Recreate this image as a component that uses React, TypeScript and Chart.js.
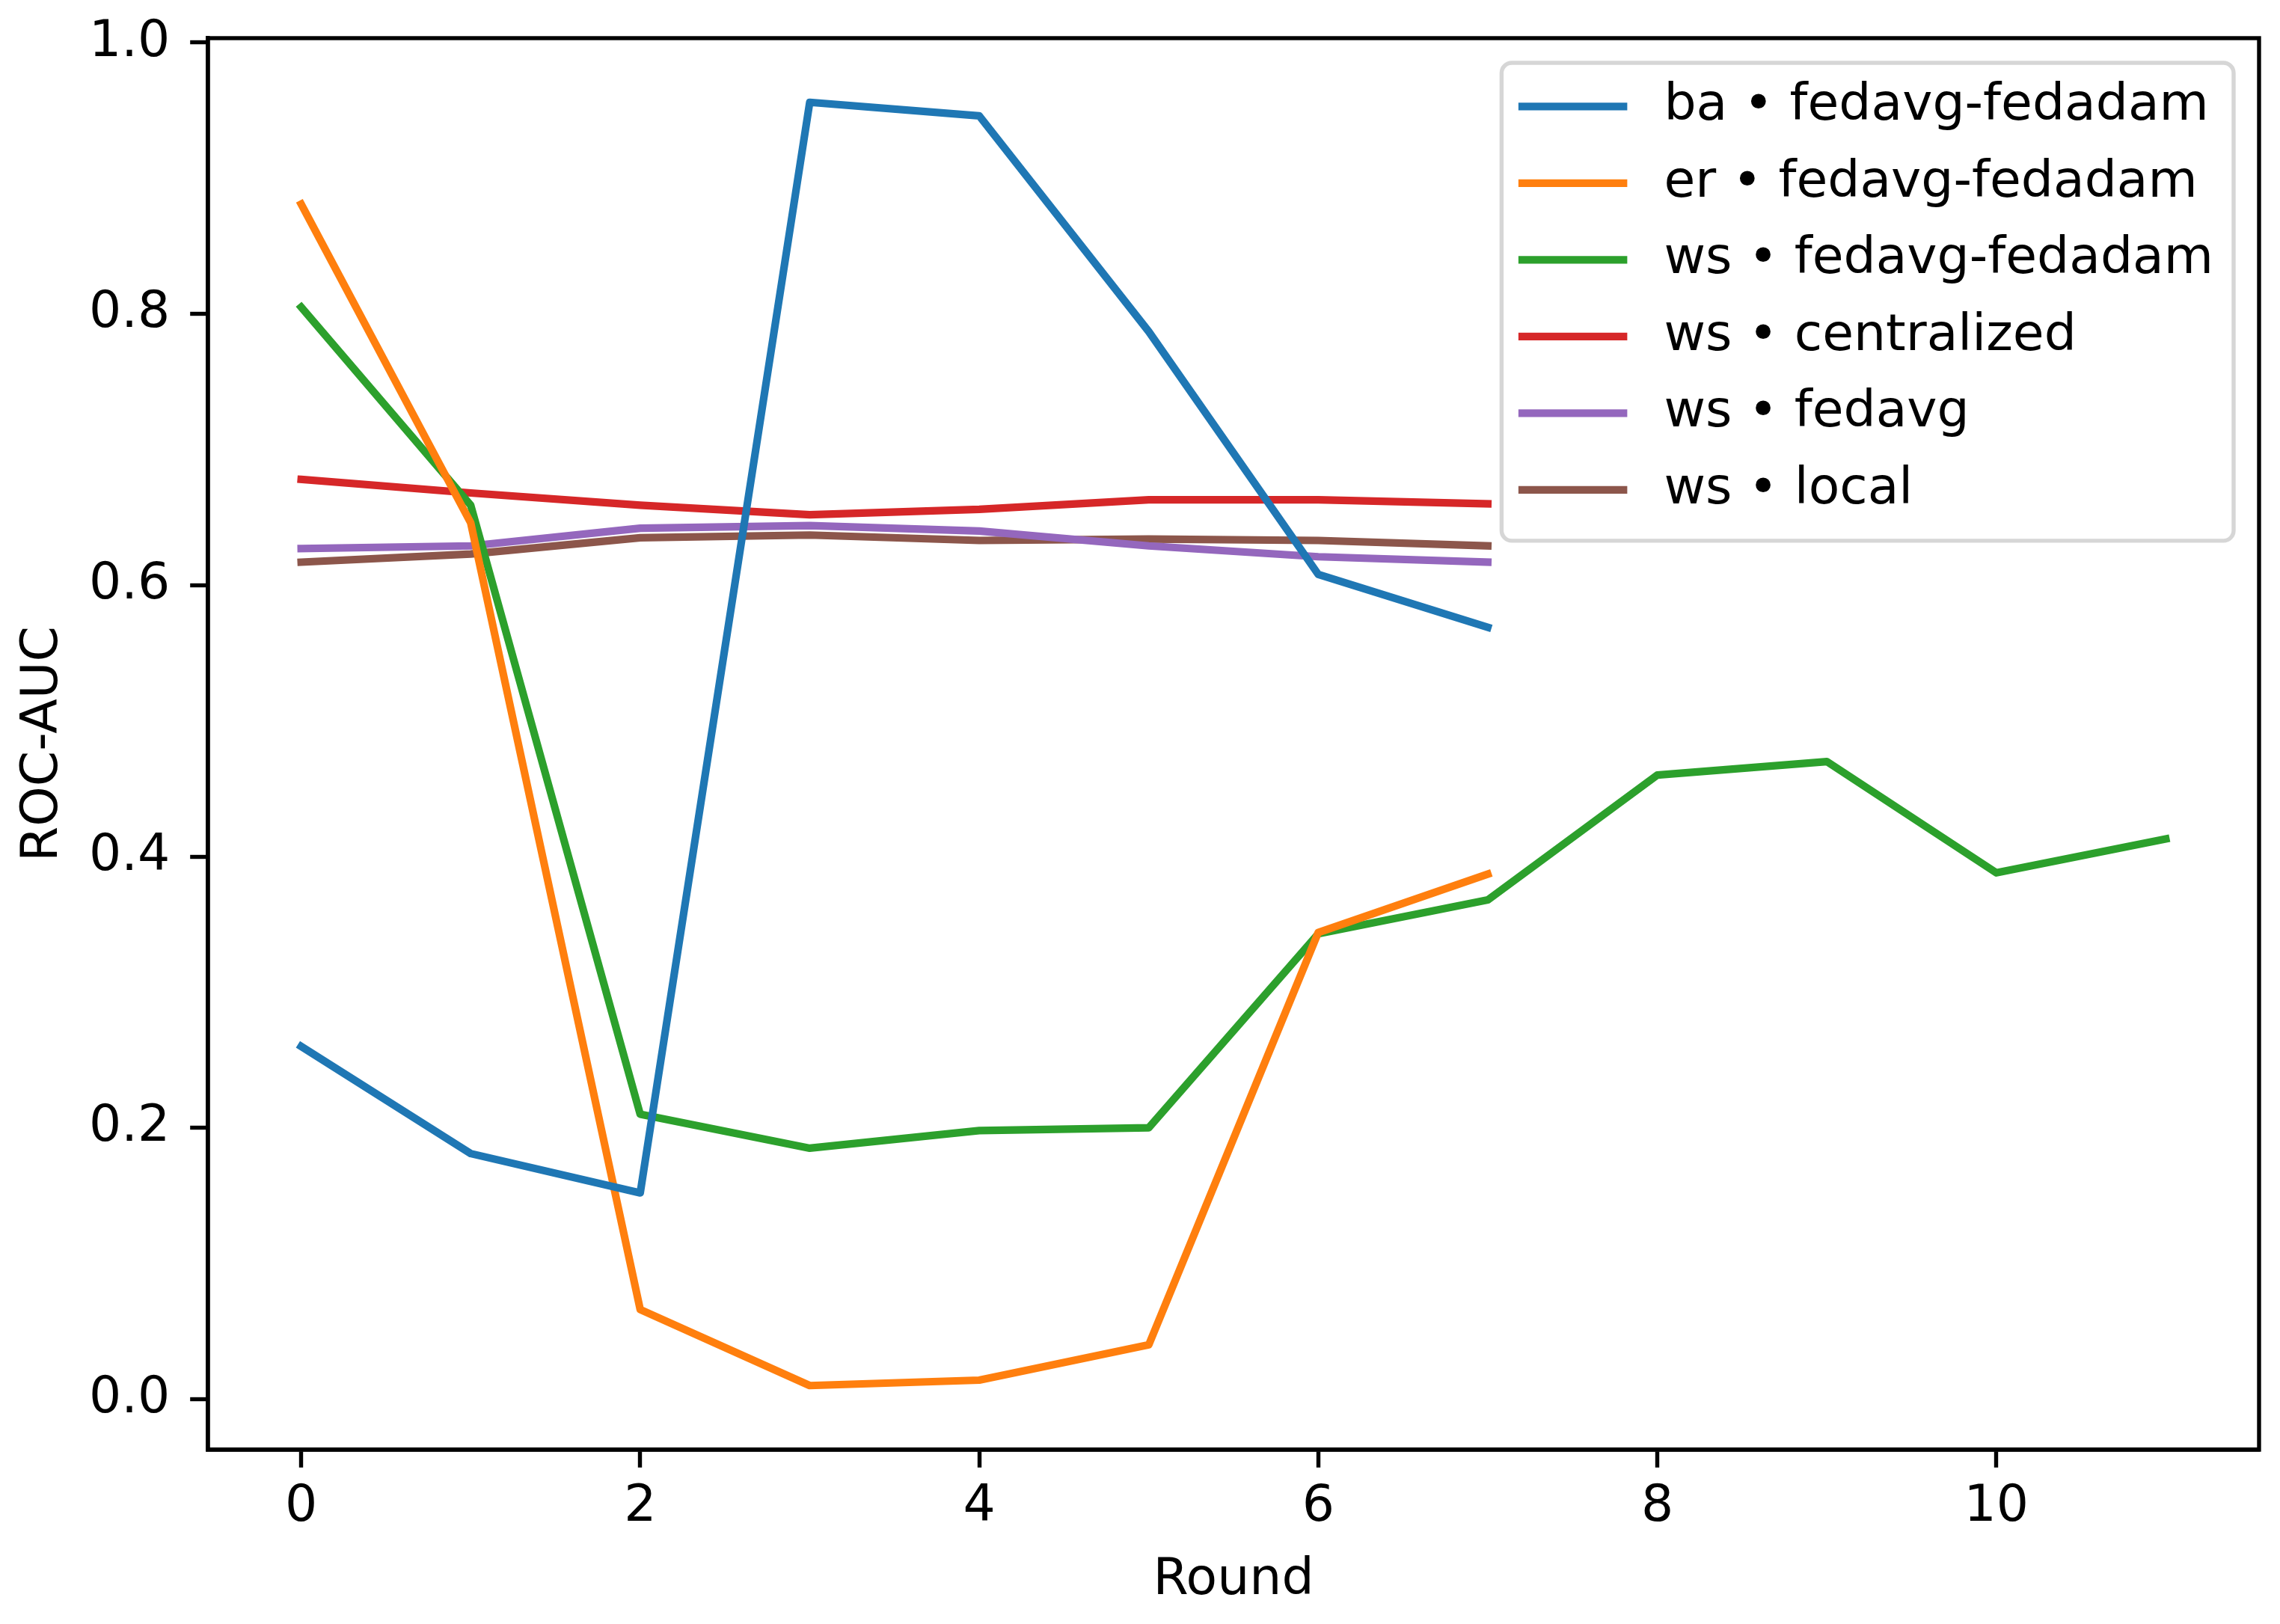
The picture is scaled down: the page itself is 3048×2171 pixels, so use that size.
import React, { useEffect, useRef } from 'react';
import { Chart, registerables } from 'chart.js';

Chart.register(...registerables);

const FONT = 'DejaVu Sans';

// Federated-learning ROC-AUC per training round
const roundsShort = [0, 1, 2, 3, 4, 5, 6, 7];
const roundsLong = [0, 1, 2, 3, 4, 5, 6, 7, 8, 9, 10, 11];

const baFedavgFedadam = [0.26, 0.181, 0.152, 0.956, 0.946, 0.787, 0.608, 0.569];
const erFedavgFedadam = [0.881, 0.646, 0.066, 0.01, 0.014, 0.04, 0.344, 0.387];
const wsFedavgFedadam = [0.805, 0.659, 0.21, 0.185, 0.198, 0.2, 0.343, 0.368, 0.46, 0.47, 0.388, 0.413];
const wsCentralized = [0.678, 0.668, 0.659, 0.652, 0.656, 0.663, 0.663, 0.66];
const wsFedavg = [0.627, 0.629, 0.642, 0.644, 0.64, 0.629, 0.621, 0.617];
const wsLocal = [0.617, 0.623, 0.635, 0.637, 0.633, 0.634, 0.633, 0.629];

const seriesLabels = [
  'ba • fedavg-fedadam',
  'er • fedavg-fedadam',
  'ws • fedavg-fedadam',
  'ws • centralized',
  'ws • fedavg',
  'ws • local',
];
const seriesColors = ['#1f77b4', '#ff7f0e', '#2ca02c', '#d62728', '#9467bd', '#8c564b'];
const seriesRounds = [roundsShort, roundsShort, roundsLong, roundsShort, roundsShort, roundsShort];
const seriesValues = [baFedavgFedadam, erFedavgFedadam, wsFedavgFedadam, wsCentralized, wsFedavg, wsLocal];

const xTickValues = [0, 2, 4, 6, 8, 10];
const yTickValues = [0, 0.2, 0.4, 0.6, 0.8, 1.0];

const X_MIN = -0.55;
const X_MAX = 11.55;
const Y_MIN = -0.0373;
const Y_MAX = 1.0033;

const FONT_SIZE = 68;
const LINE_W = 10.2;
const SPINE_W = 5.4;
const TICK_LEN = 23.8;

// Axes frame on all four sides plus an upper-right legend box
const frameAndLegend = {
  id: 'frameAndLegend',
  afterDatasetsDraw(chart: any) {
    const { ctx, chartArea: a } = chart;
    ctx.save();
    ctx.strokeStyle = '#000';
    ctx.lineWidth = SPINE_W;
    ctx.lineJoin = 'miter';
    ctx.strokeRect(a.left, a.top, a.right - a.left, a.bottom - a.top);

    ctx.font = `${FONT_SIZE}px "${FONT}"`;
    let maxW = 0;
    for (const l of seriesLabels) maxW = Math.max(maxW, ctx.measureText(l).width);

    const padL = 22.5;
    const handleLen = 145.5;
    const gap = 49;
    const padR = 27;
    const firstRow = 58.4;
    const pitch = 102.5;
    const bottomPad = 68;

    const right = a.right - 34;
    const top = a.top + 33;
    const width = padL + handleLen + gap + maxW + padR;
    const left = right - width;
    const height = firstRow + pitch * (seriesLabels.length - 1) + bottomPad;
    const r = 13.6;

    ctx.beginPath();
    ctx.moveTo(left + r, top);
    ctx.lineTo(right - r, top);
    ctx.arcTo(right, top, right, top + r, r);
    ctx.lineTo(right, top + height - r);
    ctx.arcTo(right, top + height, right - r, top + height, r);
    ctx.lineTo(left + r, top + height);
    ctx.arcTo(left, top + height, left, top + height - r, r);
    ctx.lineTo(left, top + r);
    ctx.arcTo(left, top, left + r, top, r);
    ctx.closePath();
    ctx.fillStyle = 'rgba(255,255,255,0.8)';
    ctx.fill();
    ctx.strokeStyle = 'rgba(204,204,204,0.8)';
    ctx.lineWidth = SPINE_W;
    ctx.stroke();

    ctx.textAlign = 'left';
    ctx.textBaseline = 'middle';
    seriesLabels.forEach((label, i) => {
      const cy = top + firstRow + pitch * i;
      ctx.beginPath();
      ctx.moveTo(left + padL, cy);
      ctx.lineTo(left + padL + handleLen, cy);
      ctx.strokeStyle = seriesColors[i];
      ctx.lineWidth = LINE_W;
      ctx.lineCap = 'butt';
      ctx.stroke();
      ctx.fillStyle = '#000';
      ctx.fillText(label, left + padL + handleLen + gap, cy);
    });
    ctx.restore();
  },
};

export default function App() {
  const canvasRef = useRef<HTMLCanvasElement | null>(null);

  useEffect(() => {
    document.body.style.margin = '0';
    const canvas = canvasRef.current;
    if (!canvas) return;

    const datasets = seriesLabels.map((label, i) => ({
      label,
      data: seriesRounds[i].map((x, j) => ({ x, y: seriesValues[i][j] })),
      borderColor: seriesColors[i],
      backgroundColor: seriesColors[i],
      borderWidth: LINE_W,
      borderCapStyle: 'square' as const,
      borderJoinStyle: 'round' as const,
      pointRadius: 0,
      tension: 0,
      fill: false,
    }));

    const tickFont = { family: FONT, size: FONT_SIZE, lineHeight: 1 };

    const chart = new Chart(canvas, {
      type: 'line',
      data: { datasets },
      plugins: [frameAndLegend],
      options: {
        animation: false,
        responsive: false,
        devicePixelRatio: 1,
        layout: { padding: { top: 51, right: 28, left: 0, bottom: 0 } },
        plugins: {
          legend: { display: false },
          tooltip: { enabled: false },
        },
        scales: {
          x: {
            type: 'linear',
            min: X_MIN,
            max: X_MAX,
            afterFit: (scale: any) => {
              scale.height = 233;
              scale.paddingLeft = 0;
              scale.paddingRight = 0;
            },
            afterBuildTicks: (scale: any) => {
              scale.ticks = xTickValues.map((v) => ({ value: v }));
            },
            ticks: {
              autoSkip: false,
              maxRotation: 0,
              padding: 19.5,
              color: '#000',
              font: tickFont,
              callback: (v: any) => String(v),
            },
            grid: {
              display: true,
              drawOnChartArea: false,
              drawTicks: true,
              tickLength: TICK_LEN,
              tickWidth: SPINE_W,
              tickColor: '#000',
            },
            border: { display: true, color: '#000', width: SPINE_W },
            title: {
              display: true,
              text: 'Round',
              color: '#000',
              font: { family: FONT, size: FONT_SIZE, lineHeight: 1 },
              padding: { top: 0, bottom: 24 },
            },
          },
          y: {
            type: 'linear',
            min: Y_MIN,
            max: Y_MAX,
            afterFit: (scale: any) => {
              scale.width = 278;
              scale.paddingTop = 0;
              scale.paddingBottom = 0;
            },
            afterBuildTicks: (scale: any) => {
              scale.ticks = yTickValues.map((v) => ({ value: v }));
            },
            ticks: {
              autoSkip: false,
              padding: 27,
              color: '#000',
              font: tickFont,
              callback: (v: any) => Number(v).toFixed(1),
            },
            grid: {
              display: true,
              drawOnChartArea: false,
              drawTicks: true,
              tickLength: TICK_LEN,
              tickWidth: SPINE_W,
              tickColor: '#000',
            },
            border: { display: true, color: '#000', width: SPINE_W },
            title: {
              display: true,
              text: 'ROC-AUC',
              color: '#000',
              font: { family: FONT, size: FONT_SIZE, lineHeight: 1 },
              padding: { top: 24, bottom: 0 },
            },
          },
        },
      },
    });

    return () => chart.destroy();
  }, []);

  return (
    <div style={{ position: 'absolute', left: 0, top: 0, width: 3048, height: 2171, background: '#fff' }}>
      <canvas ref={canvasRef} width={3048} height={2171} style={{ display: 'block' }} />
    </div>
  );
}
